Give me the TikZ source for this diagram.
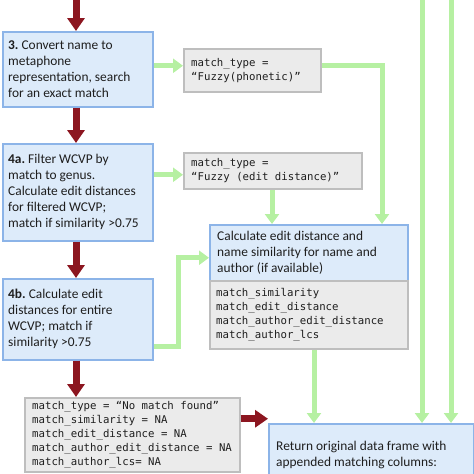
\documentclass[tikz,border=0pt]{standalone}
\usepackage{fontspec}
\setmainfont{Carlito}
\setmonofont{DejaVu Sans Mono}
\usetikzlibrary{arrows.meta,calc}
\frenchspacing
\definecolor{bluefill}{RGB}{221,235,250}
\definecolor{blueline}{RGB}{140,180,232}
\definecolor{greyfill}{RGB}{235,235,235}
\definecolor{greyline}{RGB}{190,190,190}
\definecolor{redarrow}{RGB}{140,22,32}
\definecolor{greenarrow}{RGB}{182,240,162}
\definecolor{txt}{RGB}{30,30,30}
\tikzset{
  bluebox/.style={draw=blueline, fill=bluefill, line width=1.5pt, anchor=north west, inner sep=0pt},
  greybox/.style={draw=greyline, fill=greyfill, line width=1.5pt, anchor=north west, inner sep=0pt},
  bluetext/.style={anchor=west, align=left, inner sep=0pt, text=txt,
    font=\fontsize{13.4}{16}\selectfont},
  codetext/.style={anchor=west, align=left, inner sep=0pt, text=txt,
    font=\ttfamily\fontsize{10.7}{14}\selectfont},
  redarr/.style={draw=redarrow, line width=7pt, -{Triangle[width=17pt,length=13pt]}},
  greenarr/.style={draw=greenarrow, line width=5pt, -{Triangle[width=14pt,length=10pt]}},
}
\begin{document}
\begin{tikzpicture}[x=1pt,y=-1pt]
\useasboundingbox (0,0) rectangle (474,474);
\clip (0,0) rectangle (474,474);
% blue step boxes
\node[bluebox, minimum width=150pt, minimum height=75pt] (b3) at (2,31) {};
\node[bluetext] (b3t) at ($(b3.west)+(6,0)$)
  {\textbf{3.} Convert name to\\metaphone\\representation, search\\for an exact match};
\node[bluebox, minimum width=150pt, minimum height=97pt] (b4a) at (2,143) {};
\node[bluetext] (b4at) at ($(b4a.west)+(6,0)$)
  {\textbf{4a.} Filter WCVP by\\match to genus.\\Calculate edit distances\\for filtered WCVP;\\match if similarity >0.75};
\node[bluebox, minimum width=150pt, minimum height=81pt] (b4b) at (2,278) {};
\node[bluetext] (b4bt) at ($(b4b.west)+(6,0)$)
  {\textbf{4b.} Calculate edit\\distances for entire\\WCVP; match if\\similarity >0.75};
% grey result boxes
\node[greybox, minimum width=137pt, minimum height=43pt] (g1) at (183,48) {};
\node[codetext] (g1t) at ($(g1.west)+(8,0)$) {match\_type =\\“Fuzzy(phonetic)”};
\node[greybox, minimum width=178pt, minimum height=36pt] (g2) at (183,152) {};
\node[codetext] (g2t) at ($(g2.west)+(8,0)$) {match\_type =\\“Fuzzy (edit distance)”};
% calc box
\node[bluebox, minimum width=198pt, minimum height=56pt] (calc) at (209,224) {};
\node[bluetext] (calct) at ($(calc.west)+(8,0)$)
  {Calculate edit distance and\\name similarity for name and\\author (if available)};
\node[greybox, minimum width=198pt, minimum height=68pt] (calcg) at (209,280) {};
\node[codetext] (calcgt) at ($(calcg.west)+(7,0)$)
  {match\_similarity\\match\_edit\_distance\\match\_author\_edit\_distance\\match\_author\_lcs};
% no match box
\node[greybox, minimum width=215pt, minimum height=74pt] (nomatch) at (24,397) {};
\node[codetext] (nomatcht) at ($(nomatch.west)+(8,0)$)
  {match\_type = “No match found”\\match\_similarity = NA\\match\_edit\_distance = NA\\match\_author\_edit\_distance = NA\\match\_author\_lcs= NA};
% return box
\node[bluebox, minimum width=205pt, minimum height=64pt] (ret) at (268,423) {};
\node[bluetext] (rett) at ($(ret.north west)+(8,32)$)
  {Return original data frame with\\appended matching columns:};
% free ends
\coordinate (topin) at (76,0);
\coordinate (gtopa) at (422,0);
\coordinate (gtopb) at (451,0);
% red arrows
\draw[redarr] (topin) -- (b3.north -| topin);
\draw[redarr] (b3.south -| topin) -- (b4a.north -| topin);
\draw[redarr] (b4a.south -| topin) -- (b4b.north -| topin);
\draw[redarr] (b4b.south -| topin) -- (nomatch.north -| topin);
\coordinate (nmy) at ($(nomatch.east)+(0,-16)$);
\draw[redarr] (nmy) -- (ret.west |- nmy);
% green arrows
\coordinate (g1in) at ($(g1.west)+(0,-4.5)$);
\draw[greenarr] (b3.east |- g1in) -- (g1in);
\coordinate (g2in) at ($(g2.west)+(0,4)$);
\draw[greenarr] (b4a.east |- g2in) -- (g2in);
\draw[greenarr] (g1.east |- g1in) -| ($(calc.north west)+(173,0)$);
\draw[greenarr] ($(g2.south west)+(89,0)$) -- ($(calc.north west)+(63,0)$);
\coordinate (b4bout) at ($(b4b.east)+(0,27.5)$);
\coordinate (calcin) at ($(calc.west)+(0,5)$);
\draw[greenarr] (b4bout) -- ++(25,0) |- (calcin);
\draw[greenarr] ($(calcg.south west)+(105,0)$) -- ($(ret.north west)+(46,0)$);
\draw[greenarr] (gtopa) -- (ret.north -| gtopa);
\draw[greenarr] (gtopb) -- (ret.north -| gtopb);
\end{tikzpicture}
\end{document}
